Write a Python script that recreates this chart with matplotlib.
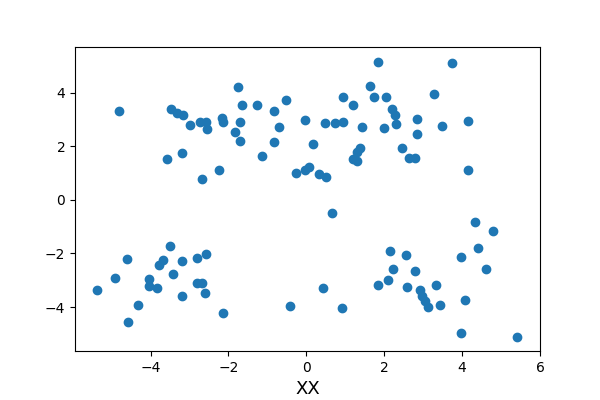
import matplotlib
matplotlib.use("Agg")
import matplotlib.pyplot as plt

# upper band of points
x_top = [-4.80, -3.48, -3.32, -3.16, -2.99, -2.74, -2.58, -2.54, -2.16, -2.14,
         -1.76, -1.82, -1.71, -1.64, -1.71, -3.59, -3.20, -2.69, -2.23, -1.26,
         -0.82, -0.52, -0.71, -0.82, -1.13, -0.03, 0.16, -0.26, -0.03, 0.08,
         0.32, 0.50, 0.47, 0.73, 0.95, 0.93, 1.20, 1.42, 1.37, 1.31,
         1.20, 1.30, 1.85, 1.63, 1.74, 2.05, 2.21, 2.28, 2.29, 2.00,
         3.74, 3.29, 2.85, 3.49, 4.15, 2.85, 2.45, 2.63, 2.79, 4.14]
y_top = [3.32, 3.39, 3.25, 3.15, 2.81, 2.90, 2.89, 2.63, 3.05, 2.91,
         4.20, 2.54, 2.21, 3.54, 2.91, 1.52, 1.75, 0.77, 1.11, 3.53,
         3.31, 3.73, 2.73, 2.16, 1.65, 2.98, 2.10, 1.00, 1.12, 1.22,
         0.95, 0.85, 2.88, 2.88, 2.90, 3.83, 3.54, 2.73, 1.95, 1.79,
         1.54, 1.45, 5.15, 4.26, 3.85, 3.85, 3.38, 3.16, 2.85, 2.70,
         5.10, 3.95, 3.01, 2.75, 2.96, 2.46, 1.94, 1.57, 1.55, 1.11]

# lower band of points
x_bot = [-5.38, -4.91, -4.60, -4.57, -4.33, -4.03, -4.03, -3.84, -3.78, -3.67,
         -3.50, -3.42, -3.20, -3.18, -2.82, -2.58, -2.82, -2.67, -2.61, -2.14,
         0.67, 2.15, 2.23, 2.09, 1.83, 0.43, -0.43, 0.91,
         2.55, 2.79, 2.59, 2.91, 2.97, 3.04, 3.12, 3.32, 3.44, 4.32,
         4.79, 4.42, 3.96, 4.61, 4.07, 3.96, 5.40]
y_bot = [-3.37, -2.92, -2.20, -4.57, -3.94, -2.97, -3.22, -3.28, -2.43, -2.24,
         -1.74, -2.78, -2.28, -3.58, -2.17, -2.01, -3.10, -3.10, -3.49, -4.24,
         -0.50, -1.91, -2.57, -2.99, -3.19, -3.30, -3.97, -4.02,
         -2.06, -2.66, -3.26, -3.35, -3.59, -3.78, -3.99, -3.19, -3.94, -0.84,
         -1.16, -1.78, -2.15, -2.58, -3.75, -4.98, -5.12]

xs = x_top + x_bot
ys = y_top + y_bot

fig, ax = plt.subplots(figsize=(6, 4), dpi=100)
fig.subplots_adjust(bottom=0.122, top=0.882)
ax.scatter(xs, ys)
ax.set_xlim(-5.94, 6.0)
ax.set_ylim(-5.65, 5.70)
ax.set_xlabel("XX", fontsize=13)
fig.savefig("out.png")
